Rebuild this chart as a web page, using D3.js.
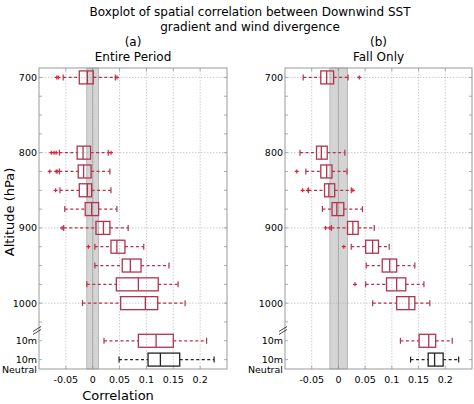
<!DOCTYPE html>
<html><head><meta charset="utf-8">
<script src="https://cdn.jsdelivr.net/npm/d3@7"></script>
<style>body{margin:0;background:#fff}text{font-family:"DejaVu Sans",sans-serif}</style>
</head><body><svg id="c" width="474" height="404"></svg>
<script>
// levels: 700..1000 hPa, then 10m (plotted at 1050) and 10m Neutral (1075)
var levels = [700, 800, 825, 850, 875, 900, 925, 950, 975, 1000, 1050, 1075];
// [whisker low, q1, median, q3, whisker high]
var entireStats = [
  [-0.055,-0.025,-0.010,0.001,0.042],
  [-0.062,-0.029,-0.018,-0.004,0.029],
  [-0.062,-0.027,-0.017,-0.003,0.032],
  [-0.061,-0.025,-0.010,-0.002,0.034],
  [-0.052,-0.014,-0.002,0.011,0.045],
  [-0.054,0.006,0.020,0.032,0.066],
  [0.004,0.034,0.045,0.060,0.095],
  [0.004,0.055,0.070,0.090,0.142],
  [-0.011,0.044,0.085,0.122,0.159],
  [-0.019,0.052,0.098,0.121,0.172],
  [0.021,0.085,0.118,0.150,0.212],
  [0.049,0.103,0.126,0.162,0.226]
];
var entireOut = [[-0.064,-0.067,0.045],[-0.077,-0.072,-0.068,0.034],[-0.080,-0.068,-0.066],[-0.069],[],[-0.057],[-0.008],[],[],[],[],[]];
var fallStats = [
  [-0.066,-0.033,-0.022,-0.009,0.018],
  [-0.072,-0.041,-0.032,-0.021,0.012],
  [-0.061,-0.033,-0.022,-0.012,0.016],
  [-0.056,-0.026,-0.018,-0.007,0.024],
  [-0.030,-0.012,-0.003,0.010,0.045],
  [-0.013,0.017,0.027,0.037,0.067],
  [0.024,0.051,0.064,0.075,0.095],
  [0.052,0.082,0.096,0.109,0.143],
  [0.051,0.090,0.109,0.126,0.160],
  [0.064,0.109,0.132,0.143,0.171],
  [0.116,0.151,0.169,0.182,0.213],
  [0.135,0.168,0.180,0.196,0.225]
];
var fallOut = [[0.039],[],[-0.078],[-0.067,-0.057,0.027],[],[-0.024,-0.016],[0.010],[],[0.031],[],[],[]];
var xTicks = [-0.05, 0, 0.05, 0.1, 0.15, 0.2];
var yLabelLevels = [700, 800, 900, 1000, 1050, 1075];
var yLabels = ["700", "800", "900", "1000", "10m", "10m"];
var minorLevels = [700,725,750,775,800,825,850,875,900,925,950,975,1000,1025,1050,1075];

var svg = d3.select("#c");
var y = d3.scaleLinear().domain([687.5, 1087.5]).range([68, 369]);
var boxCol = "#b0344f", outCol = "#e0203a";

svg.append("text").attr("x", 250).attr("y", 16).attr("text-anchor","middle").attr("font-size",12).text("Boxplot of spatial correlation between Downwind SST");
svg.append("text").attr("x", 250).attr("y", 31).attr("text-anchor","middle").attr("font-size",12).text("gradient and wind divergence");

function panel(x0, x1, stats, outs, band, letter, sub) {
  var x = d3.scaleLinear().domain([-0.1, 0.25]).range([x0, x1]);
  var g = svg.append("g");
  var cx = (x0 + x1) / 2;
  g.append("text").attr("x", cx).attr("y", 46).attr("text-anchor","middle").attr("font-size",12).text(letter);
  g.append("text").attr("x", cx).attr("y", 61).attr("text-anchor","middle").attr("font-size",12).text(sub);
  // shaded band near zero
  g.append("rect").attr("x", x(band[0])).attr("y", 68).attr("width", x(band[1]) - x(band[0]))
    .attr("height", 301).attr("fill", "#d4d4d4").attr("stroke", "#999").attr("stroke-width", 0.6);
  g.append("line").attr("x1", x(0)).attr("x2", x(0)).attr("y1", 68).attr("y2", 369).attr("stroke", "#999").attr("stroke-width", 0.7);
  // grid
  g.selectAll(".gx").data(xTicks).enter().append("line")
    .attr("x1", d => x(d)).attr("x2", d => x(d)).attr("y1", 68).attr("y2", 369)
    .attr("stroke", "#aaa").attr("stroke-width", 0.6).attr("stroke-dasharray", "1.5,1.5");
  g.selectAll(".gy").data(yLabelLevels.slice(0, 4)).enter().append("line")
    .attr("x1", x0).attr("x2", x1).attr("y1", d => y(d)).attr("y2", d => y(d))
    .attr("stroke", "#aaa").attr("stroke-width", 0.6).attr("stroke-dasharray", "1.5,1.5");
  // minor ticks inside both sides
  g.selectAll(".mt").data(minorLevels).enter().append("path")
    .attr("d", d => "M" + x0 + "," + y(d) + "h3M" + x1 + "," + y(d) + "h-3")
    .attr("stroke", "#888").attr("stroke-width", 0.7);
  g.selectAll(".xt").data(xTicks).enter().append("path")
    .attr("d", d => "M" + x(d) + ",369v-3M" + x(d) + ",68v3")
    .attr("stroke", "#888").attr("stroke-width", 0.7);
  // boxes
  var bh = 13;
  stats.forEach(function (s, i) {
    var yc = y(levels[i]);
    var col = i === levels.length - 1 ? "#222" : boxCol;
    g.append("line").attr("x1", x(s[0])).attr("x2", x(s[1])).attr("y1", yc).attr("y2", yc)
      .attr("stroke", col).attr("stroke-width", 1.2).attr("stroke-dasharray", "3,2.5");
    g.append("line").attr("x1", x(s[3])).attr("x2", x(s[4])).attr("y1", yc).attr("y2", yc)
      .attr("stroke", col).attr("stroke-width", 1.2).attr("stroke-dasharray", "3,2.5");
    [s[0], s[4]].forEach(function (v) {
      g.append("line").attr("x1", x(v)).attr("x2", x(v)).attr("y1", yc - 3).attr("y2", yc + 3)
        .attr("stroke", col).attr("stroke-width", 1.2);
    });
    g.append("rect").attr("x", x(s[1])).attr("y", yc - bh / 2).attr("width", x(s[3]) - x(s[1]))
      .attr("height", bh).attr("fill", "none").attr("stroke", col).attr("stroke-width", 1.3);
    g.append("line").attr("x1", x(s[2])).attr("x2", x(s[2])).attr("y1", yc - bh / 2).attr("y2", yc + bh / 2)
      .attr("stroke", col).attr("stroke-width", 1.3);
    outs[i].forEach(function (v) {
      g.append("path").attr("d", "M" + (x(v) - 2) + "," + yc + "h4M" + x(v) + "," + (yc - 2) + "v4")
        .attr("stroke", outCol).attr("stroke-width", 1.2);
    });
  });
  // frame
  g.append("rect").attr("x", x0).attr("y", 68).attr("width", x1 - x0).attr("height", 301)
    .attr("fill", "none").attr("stroke", "#999").attr("stroke-width", 1);
  // x labels
  g.selectAll(".xl").data(xTicks).enter().append("text")
    .attr("x", d => x(d)).attr("y", 383).attr("text-anchor", "middle").attr("font-size", 9.5)
    .text(d => d === 0 ? "0" : String(d));
  // y labels
  g.selectAll(".yl").data(yLabelLevels).enter().append("text")
    .attr("x", x0 - 2).attr("y", d => y(d) + 3.5).attr("text-anchor", "end").attr("font-size", 9.5)
    .text((d, i) => yLabels[i]);
  g.append("text").attr("x", x0 - 2).attr("y", y(1075) + 13).attr("text-anchor", "end").attr("font-size", 9.5).text("Neutral");
  // axis break mark
  var by = y(1035);
  g.append("path").attr("d", "M" + (x0 - 6) + "," + (by + 2) + "l8,-5M" + (x0 - 6) + "," + (by + 5) + "l8,-5")
    .attr("stroke", "#333").attr("stroke-width", 0.9).attr("fill", "none");
}

panel(39, 227, entireStats, entireOut, [-0.011, 0.011], "(a)", "Entire Period");
panel(285, 472, fallStats, fallOut, [-0.016, 0.017], "(b)", "Fall Only");

svg.append("text").attr("transform", "translate(14,212) rotate(-90)").attr("text-anchor", "middle")
  .attr("font-size", 13).text("Altitude (hPa)");
svg.append("text").attr("x", 118).attr("y", 400).attr("text-anchor", "middle").attr("font-size", 13).text("Correlation");
</script></body></html>
